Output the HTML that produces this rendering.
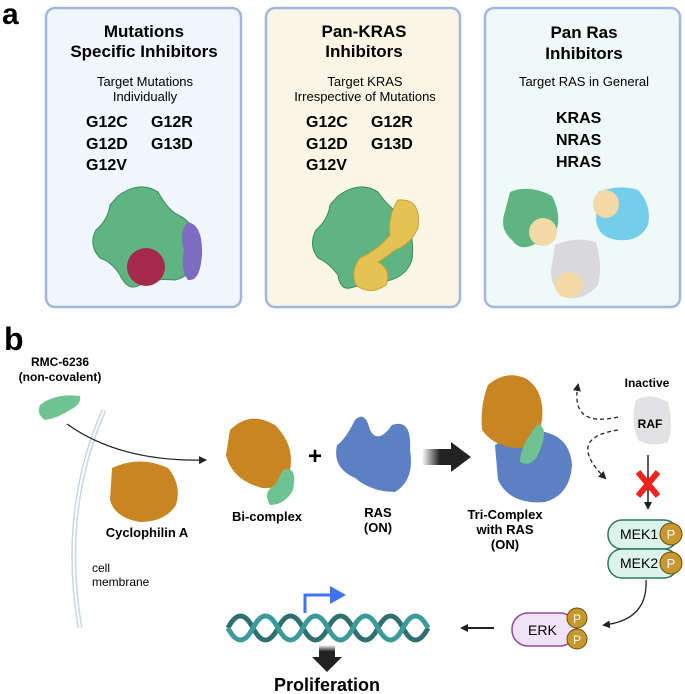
<!DOCTYPE html>
<html><head><meta charset="utf-8"><style>
body{margin:0;background:#fff}
svg{display:block;font-family:"Liberation Sans",sans-serif}
.t{font-weight:bold;text-anchor:middle}
</style></head><body>
<svg width="685" height="694" viewBox="0 0 685 694" xmlns="http://www.w3.org/2000/svg">
<defs>
<marker id="ah" markerWidth="8" markerHeight="8" refX="6" refY="4" orient="auto" markerUnits="userSpaceOnUse"><path d="M0,0 L8,4 L0,8 Z" fill="#222"/></marker>
<linearGradient id="ga" x1="0" x2="1"><stop offset="0" stop-color="#fff"/><stop offset="0.6" stop-color="#222"/></linearGradient>
<linearGradient id="gd" x1="0" y1="0" x2="0" y2="1"><stop offset="0" stop-color="#fff"/><stop offset="0.5" stop-color="#222"/></linearGradient>
</defs>
<!-- panel a -->
<text x="2" y="24" font-size="30" font-weight="bold">a</text>
<rect x="46" y="8" width="195" height="299" rx="9" fill="#eff6fc" stroke="#a3b7de" stroke-width="2.5"/>
<rect x="266" y="8" width="194" height="299" rx="9" fill="#faf6e6" stroke="#a3b7de" stroke-width="2.5"/>
<rect x="485" y="8" width="195" height="299" rx="9" fill="#eefaf8" stroke="#a3b7de" stroke-width="2.5"/>
<g class="t" font-size="17">
<text x="144" y="37">Mutations</text><text x="144" y="57">Specific Inhibitors</text>
<text x="364" y="37">Pan-KRAS</text><text x="364" y="57">Inhibitors</text>
<text x="584" y="38">Pan Ras</text><text x="584" y="59">Inhibitors</text>
</g>
<g font-size="13" text-anchor="middle">
<text x="145" y="86">Target Mutations</text><text x="145" y="101">Individually</text>
<text x="365" y="86">Target KRAS</text><text x="365" y="101">Irrespective of Mutations</text>
<text x="584" y="86">Target RAS in General</text>
</g>
<g font-size="16" font-weight="bold">
<text x="86" y="127">G12C</text><text x="151" y="127">G12R</text>
<text x="86" y="149">G12D</text><text x="151" y="149">G13D</text>
<text x="86" y="170">G12V</text>
<text x="306" y="127">G12C</text><text x="371" y="127">G12R</text>
<text x="306" y="149">G12D</text><text x="371" y="149">G13D</text>
<text x="306" y="170">G12V</text>
<text x="556" y="123">KRAS</text><text x="556" y="145">NRAS</text><text x="556" y="167">HRAS</text>
</g>
<!-- box1 proteins -->
<path d="M118,196 Q140,180 158,192 Q168,210 178,215 Q195,222 196,245 Q198,275 175,280 Q150,278 140,285 Q128,292 120,275 Q112,262 100,258 Q88,245 96,230 Q108,220 110,205 Z" fill="#5fb582" stroke="#3f8a5c"/>
<circle cx="146" cy="267" r="19" fill="#a5294b"/>
<path d="M188,222 Q203,225 202,255 Q200,282 188,280 Q180,270 184,250 Q178,232 188,222Z" fill="#7d6cc0"/>
<!-- box2 proteins -->
<path d="M338,196 Q360,180 378,192 Q390,210 404,216 Q415,235 412,260 Q405,280 380,282 Q360,285 350,288 Q340,290 338,275 Q328,262 318,258 Q308,245 316,230 Q328,220 330,205 Z" fill="#5fb582" stroke="#3f8a5c"/>
<path d="M398,200 Q422,198 418,228 Q410,245 395,250 Q385,258 378,262 Q392,270 386,285 Q370,296 356,285 Q350,270 360,258 Q378,250 390,235 Q388,215 398,200Z" fill="#e6c255" stroke="#c9a13a"/>
<!-- box3 proteins -->
<path d="M510,192 Q530,184 552,196 Q562,215 556,232 Q548,248 535,244 Q520,252 512,240 Q500,230 504,215 Z" fill="#5fb582"/>
<ellipse cx="543" cy="232" rx="14" ry="14" fill="#f2d9a6"/>
<path d="M598,192 Q620,184 638,190 Q652,205 648,225 Q640,242 618,240 Q598,238 596,220 Z" fill="#74cde9"/>
<ellipse cx="606" cy="204" rx="13" ry="14" fill="#f2d9a6"/>
<path d="M555,245 Q575,236 596,242 Q603,265 598,285 Q585,300 568,298 Q550,290 551,270 Z" fill="#d9d9dc"/>
<ellipse cx="569" cy="285" rx="14" ry="13" fill="#f2d9a6"/>
<!-- panel b -->
<text x="4" y="350" font-size="32" font-weight="bold">b</text>
<g class="t" font-size="12"><text x="60" y="366">RMC-6236</text><text x="60" y="381">(non-covalent)</text></g>
<path d="M40,405 Q55,393 80,396 Q82,404 70,410 Q58,418 45,420 Q36,414 40,405Z" fill="#6fc291"/>
<path d="M104,410 Q60,510 80,628" fill="none" stroke="#c8d6ea" stroke-width="5"/>
<path d="M104,410 Q60,510 80,628" fill="none" stroke="#fff" stroke-width="2"/>
<path d="M67,424 Q120,462 205,460" fill="none" stroke="#222" stroke-width="1.3" marker-end="url(#ah)"/>
<path d="M112,468 Q140,455 168,468 Q182,485 176,505 Q165,522 140,522 Q115,518 110,500 Z" fill="#c98521"/>
<text class="t" x="147" y="537" font-size="13">Cyclophilin A</text>
<path d="M230,430 Q250,410 275,425 Q295,445 290,470 Q282,490 262,488 Q232,480 226,455 Z" fill="#c98521"/>
<path d="M283,470 Q298,465 293,490 Q285,505 270,505 Q262,492 275,485Z" fill="#6fc291"/>
<text class="t" x="267" y="521" font-size="13">Bi-complex</text>
<text x="308" y="464" font-size="24" font-weight="bold">+</text>
<path d="M355,420 Q365,410 370,430 Q378,445 392,425 Q412,418 410,450 Q415,480 395,492 Q372,492 355,478 Q332,468 337,445 Q345,440 355,420Z" fill="#5d7fc4"/>
<g class="t" font-size="13"><text x="378" y="517">RAS</text><text x="378" y="532">(ON)</text></g>
<rect x="422" y="449" width="30" height="16" fill="url(#ga)"/>
<path d="M451,442 L471,457 L451,472 Z" fill="#222"/>
<path d="M495,445 Q520,430 545,432 Q570,438 572,465 Q570,495 545,502 Q510,505 498,480 Z" fill="#5d7fc4"/>
<path d="M488,385 Q505,370 525,378 Q545,390 542,420 Q538,445 520,448 Q495,448 482,430 Q480,405 488,385Z" fill="#c98521"/>
<path d="M538,424 Q550,428 538,455 Q530,468 520,462 Q520,445 538,424Z" fill="#6fc291"/>
<g class="t" font-size="13"><text x="505" y="519">Tri-Complex</text><text x="505" y="534">with RAS</text><text x="505" y="549">(ON)</text></g>
<path d="M618,417 Q570,428 578,385" fill="none" stroke="#222" stroke-width="1.3" stroke-dasharray="4,3" marker-end="url(#ah)"/>
<path d="M618,430 Q565,438 605,478" fill="none" stroke="#222" stroke-width="1.3" stroke-dasharray="4,3" marker-end="url(#ah)"/>
<text class="t" x="647" y="387" font-size="12">Inactive</text>
<path d="M636,400 Q650,392 668,402 Q674,425 668,442 Q650,448 638,440 Q630,420 636,400Z" fill="#e2e2e4"/>
<text class="t" x="650" y="428" font-size="12">RAF</text>
<line x1="648" y1="455" x2="648" y2="508" stroke="#222" stroke-width="1.5" marker-end="url(#ah)"/>
<path d="M638,472 L658,496 M658,472 L638,496" stroke="#f0231d" stroke-width="6"/>
<rect x="608" y="520" width="70" height="29" rx="14" fill="#dcf3ec" stroke="#2e7560" stroke-width="1.5"/>
<rect x="608" y="549" width="70" height="29" rx="14" fill="#dcf3ec" stroke="#2e7560" stroke-width="1.5"/>
<text x="620" y="539" font-size="14">MEK1</text><text x="620" y="568" font-size="14">MEK2</text>
<circle cx="671" cy="534" r="11" fill="#c7992c" stroke="#6b4b10"/><text x="671" y="539" font-size="13" fill="#fff" text-anchor="middle">P</text>
<circle cx="671" cy="563" r="11" fill="#c7992c" stroke="#6b4b10"/><text x="671" y="568" font-size="13" fill="#fff" text-anchor="middle">P</text>
<path d="M646,580 Q648,620 604,625" fill="none" stroke="#222" stroke-width="1.3" marker-end="url(#ah)"/>
<rect x="512" y="613" width="64" height="33" rx="16" fill="#f0e3f8" stroke="#8d4aa3" stroke-width="1.5"/>
<text x="528" y="635" font-size="14">ERK</text>
<circle cx="577" cy="618" r="10" fill="#c7992c" stroke="#6b4b10"/><text x="577" y="623" font-size="12" fill="#fff" text-anchor="middle">P</text>
<circle cx="577" cy="639" r="10" fill="#c7992c" stroke="#6b4b10"/><text x="577" y="644" font-size="12" fill="#fff" text-anchor="middle">P</text>
<line x1="494" y1="628" x2="462" y2="628" stroke="#222" stroke-width="2" marker-end="url(#ah)"/>
<g fill="none" stroke-width="5">
<path d="M228,628 q12.5,-24 25,0 t25,0 t25,0 t25,0 t25,0 t25,0 t25,0 t25,0" stroke="#2f6f70"/>
<path d="M228,628 q12.5,24 25,0 t25,0 t25,0 t25,0 t25,0 t25,0 t25,0 t25,0" stroke="#3d9a9a"/>
</g>
<path d="M305,613 V595 H332" fill="none" stroke="#3f73f3" stroke-width="3"/>
<path d="M330,586 L346,595 L330,604Z" fill="#3f73f3"/>
<rect x="319" y="645" width="16" height="13" fill="url(#gd)"/>
<path d="M312,657 L342,657 L327,672Z" fill="#222"/>
<text class="t" x="327" y="691" font-size="18">Proliferation</text>
<g font-size="12"><text x="92" y="572">cell</text><text x="92" y="586">membrane</text></g>
</svg>
</body></html>
